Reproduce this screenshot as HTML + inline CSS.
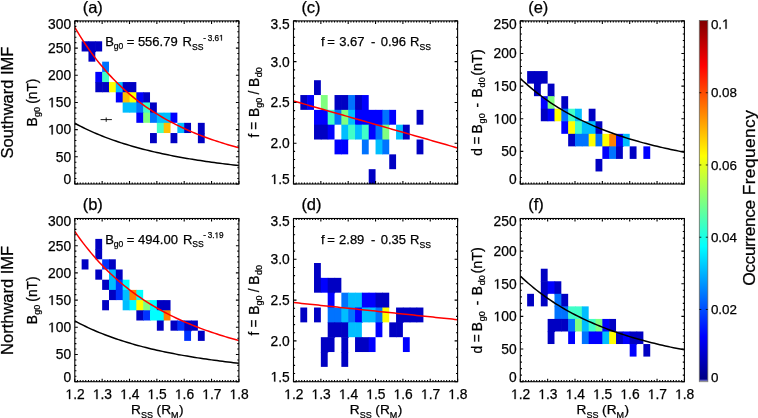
<!DOCTYPE html>
<html><head><meta charset="utf-8"><style>
html,body{margin:0;padding:0;background:#fff;}
svg{display:block;will-change:transform;}
text{font-family:"Liberation Sans", sans-serif;fill:#000;stroke:#000;stroke-width:0.25px;}
</style></head><body>
<svg width="758" height="418" viewBox="0 0 758 418">
<defs><linearGradient id="jet" x1="0" y1="0" x2="0" y2="1"><stop offset="0.0000" stop-color="#7f0000"/><stop offset="0.0312" stop-color="#9f0000"/><stop offset="0.0625" stop-color="#bf0000"/><stop offset="0.0938" stop-color="#df0000"/><stop offset="0.1250" stop-color="#ff0000"/><stop offset="0.1562" stop-color="#ff1f00"/><stop offset="0.1875" stop-color="#ff3f00"/><stop offset="0.2188" stop-color="#ff5f00"/><stop offset="0.2500" stop-color="#ff7f00"/><stop offset="0.2812" stop-color="#ff9f00"/><stop offset="0.3125" stop-color="#ffbf00"/><stop offset="0.3438" stop-color="#ffdf00"/><stop offset="0.3750" stop-color="#ffff00"/><stop offset="0.4062" stop-color="#dfff1f"/><stop offset="0.4375" stop-color="#bfff3f"/><stop offset="0.4688" stop-color="#9fff5f"/><stop offset="0.5000" stop-color="#7fff7f"/><stop offset="0.5312" stop-color="#5fff9f"/><stop offset="0.5625" stop-color="#3fffbf"/><stop offset="0.5938" stop-color="#1fffdf"/><stop offset="0.6250" stop-color="#00ffff"/><stop offset="0.6562" stop-color="#00dfff"/><stop offset="0.6875" stop-color="#00bfff"/><stop offset="0.7188" stop-color="#009fff"/><stop offset="0.7500" stop-color="#007fff"/><stop offset="0.7812" stop-color="#005fff"/><stop offset="0.8125" stop-color="#003fff"/><stop offset="0.8438" stop-color="#001fff"/><stop offset="0.8750" stop-color="#0000ff"/><stop offset="0.9062" stop-color="#0000df"/><stop offset="0.9375" stop-color="#0000bf"/><stop offset="0.9688" stop-color="#00009f"/><stop offset="1.0000" stop-color="#00007f"/></linearGradient><clipPath id="cp00"><rect x="74.8" y="20.9" width="164.1" height="163.1"/></clipPath><clipPath id="cp01"><rect x="74.8" y="218.5" width="164.1" height="163.2"/></clipPath><clipPath id="cp10"><rect x="293.5" y="20.9" width="164.1" height="163.1"/></clipPath><clipPath id="cp11"><rect x="293.5" y="218.5" width="164.1" height="163.2"/></clipPath><clipPath id="cp20"><rect x="520.3" y="20.9" width="164.1" height="163.1"/></clipPath><clipPath id="cp21"><rect x="520.3" y="218.5" width="164.1" height="163.2"/></clipPath></defs>
<rect width="758" height="418" fill="#fff"/>
<rect x="81.64" y="41.29" width="7.44" height="10.19" fill="#0000c3"/>
<rect x="88.47" y="41.29" width="7.44" height="10.79" fill="#0000c3"/>
<rect x="95.31" y="41.29" width="6.84" height="10.19" fill="#0000c3"/>
<rect x="88.47" y="51.48" width="6.84" height="10.19" fill="#0000c3"/>
<rect x="102.15" y="61.67" width="6.84" height="10.79" fill="#0073ff"/>
<rect x="95.31" y="71.87" width="7.44" height="10.79" fill="#0000ff"/>
<rect x="102.15" y="71.87" width="6.84" height="10.79" fill="#40ffc8"/>
<rect x="95.31" y="82.06" width="7.44" height="10.19" fill="#0000c3"/>
<rect x="102.15" y="82.06" width="7.44" height="10.19" fill="#0000c3"/>
<rect x="108.99" y="82.06" width="7.44" height="10.19" fill="#ffff00"/>
<rect x="115.82" y="82.06" width="7.44" height="10.79" fill="#00beff"/>
<rect x="122.66" y="82.06" width="7.44" height="10.79" fill="#0000c3"/>
<rect x="129.50" y="82.06" width="6.84" height="10.79" fill="#0000c3"/>
<rect x="115.82" y="92.26" width="7.44" height="10.19" fill="#0000ff"/>
<rect x="122.66" y="92.26" width="7.44" height="10.79" fill="#ffbe00"/>
<rect x="129.50" y="92.26" width="7.44" height="10.79" fill="#ffff00"/>
<rect x="136.34" y="92.26" width="7.44" height="10.79" fill="#0000ff"/>
<rect x="143.18" y="92.26" width="6.84" height="10.79" fill="#0000c3"/>
<rect x="122.66" y="102.45" width="7.44" height="10.19" fill="#00beff"/>
<rect x="129.50" y="102.45" width="7.44" height="10.19" fill="#00beff"/>
<rect x="136.34" y="102.45" width="7.44" height="10.79" fill="#0073ff"/>
<rect x="143.18" y="102.45" width="7.44" height="10.79" fill="#40ffc8"/>
<rect x="150.01" y="102.45" width="6.84" height="10.79" fill="#0000c3"/>
<rect x="136.34" y="112.64" width="7.44" height="10.19" fill="#0000ff"/>
<rect x="143.18" y="112.64" width="7.44" height="10.19" fill="#80ff80"/>
<rect x="150.01" y="112.64" width="7.44" height="10.19" fill="#0073ff"/>
<rect x="156.85" y="112.64" width="7.44" height="10.79" fill="#00beff"/>
<rect x="163.69" y="112.64" width="7.44" height="10.79" fill="#00beff"/>
<rect x="170.52" y="112.64" width="6.84" height="10.19" fill="#0000ff"/>
<rect x="156.85" y="122.84" width="7.44" height="10.19" fill="#40ffc8"/>
<rect x="163.69" y="122.84" width="6.84" height="10.19" fill="#ffbe00"/>
<rect x="177.36" y="122.84" width="7.44" height="10.19" fill="#00beff"/>
<rect x="184.20" y="122.84" width="6.84" height="10.19" fill="#0000c3"/>
<rect x="197.88" y="122.84" width="6.84" height="10.79" fill="#0000c3"/>
<rect x="150.01" y="133.03" width="6.84" height="10.19" fill="#0000c3"/>
<rect x="170.52" y="133.03" width="6.84" height="10.19" fill="#0000c3"/>
<rect x="197.88" y="133.03" width="6.84" height="10.19" fill="#0000c3"/>
<rect x="95.31" y="238.90" width="6.84" height="10.80" fill="#0000c3"/>
<rect x="95.31" y="249.10" width="6.84" height="10.20" fill="#0000c3"/>
<rect x="81.64" y="259.30" width="6.84" height="10.20" fill="#0000c3"/>
<rect x="102.15" y="259.30" width="7.44" height="10.20" fill="#0032ff"/>
<rect x="108.99" y="259.30" width="6.84" height="10.80" fill="#0000c3"/>
<rect x="95.31" y="269.50" width="6.84" height="10.20" fill="#0000c3"/>
<rect x="108.99" y="269.50" width="7.44" height="10.80" fill="#00beff"/>
<rect x="115.82" y="269.50" width="6.84" height="10.80" fill="#0000c3"/>
<rect x="102.15" y="279.70" width="7.44" height="10.20" fill="#0000c3"/>
<rect x="108.99" y="279.70" width="7.44" height="10.80" fill="#00beff"/>
<rect x="115.82" y="279.70" width="7.44" height="10.80" fill="#0032ff"/>
<rect x="122.66" y="279.70" width="6.84" height="10.80" fill="#00ffff"/>
<rect x="108.99" y="289.90" width="7.44" height="10.20" fill="#0000c3"/>
<rect x="115.82" y="289.90" width="7.44" height="10.20" fill="#0032ff"/>
<rect x="122.66" y="289.90" width="7.44" height="10.80" fill="#00beff"/>
<rect x="129.50" y="289.90" width="7.44" height="10.80" fill="#ff8000"/>
<rect x="136.34" y="289.90" width="6.84" height="10.80" fill="#00ffff"/>
<rect x="102.15" y="300.10" width="6.84" height="10.20" fill="#0000c3"/>
<rect x="122.66" y="300.10" width="7.44" height="10.20" fill="#00beff"/>
<rect x="129.50" y="300.10" width="7.44" height="10.20" fill="#00ffff"/>
<rect x="136.34" y="300.10" width="7.44" height="10.80" fill="#ffff00"/>
<rect x="143.18" y="300.10" width="7.44" height="10.80" fill="#80ff80"/>
<rect x="150.01" y="300.10" width="7.44" height="10.80" fill="#00ffff"/>
<rect x="156.85" y="300.10" width="7.44" height="10.80" fill="#0000c3"/>
<rect x="163.69" y="300.10" width="6.84" height="10.80" fill="#0000c3"/>
<rect x="136.34" y="310.30" width="7.44" height="10.20" fill="#0000c3"/>
<rect x="143.18" y="310.30" width="7.44" height="10.20" fill="#0032ff"/>
<rect x="150.01" y="310.30" width="7.44" height="10.20" fill="#00ffff"/>
<rect x="156.85" y="310.30" width="7.44" height="10.80" fill="#00ffff"/>
<rect x="163.69" y="310.30" width="6.84" height="10.20" fill="#ff8000"/>
<rect x="156.85" y="320.50" width="6.84" height="10.20" fill="#0000c3"/>
<rect x="170.52" y="320.50" width="7.44" height="10.20" fill="#0000c3"/>
<rect x="177.36" y="320.50" width="7.44" height="10.20" fill="#0032ff"/>
<rect x="184.20" y="320.50" width="7.44" height="10.80" fill="#0000c3"/>
<rect x="191.04" y="320.50" width="6.84" height="10.20" fill="#0000c3"/>
<rect x="184.20" y="330.70" width="6.84" height="10.20" fill="#0032ff"/>
<rect x="197.88" y="330.70" width="6.84" height="10.20" fill="#0000c3"/>
<rect x="314.01" y="80.21" width="6.84" height="14.83" fill="#0000c3"/>
<rect x="300.34" y="95.04" width="7.44" height="14.83" fill="#0000c3"/>
<rect x="307.18" y="95.04" width="6.84" height="14.83" fill="#0000ff"/>
<rect x="320.85" y="95.04" width="6.84" height="15.43" fill="#80ff80"/>
<rect x="334.52" y="95.04" width="7.44" height="15.43" fill="#0000c3"/>
<rect x="341.36" y="95.04" width="7.44" height="15.43" fill="#0000c3"/>
<rect x="348.20" y="95.04" width="7.44" height="15.43" fill="#0073ff"/>
<rect x="355.04" y="95.04" width="7.44" height="15.43" fill="#0000c3"/>
<rect x="361.88" y="95.04" width="6.84" height="15.43" fill="#0000ff"/>
<rect x="314.01" y="109.86" width="7.44" height="15.43" fill="#0000ff"/>
<rect x="320.85" y="109.86" width="7.44" height="15.43" fill="#0000ff"/>
<rect x="327.69" y="109.86" width="7.44" height="15.43" fill="#40ffc8"/>
<rect x="334.52" y="109.86" width="7.44" height="14.83" fill="#0073ff"/>
<rect x="341.36" y="109.86" width="7.44" height="15.43" fill="#80ff80"/>
<rect x="348.20" y="109.86" width="7.44" height="15.43" fill="#00beff"/>
<rect x="355.04" y="109.86" width="7.44" height="15.43" fill="#0000ff"/>
<rect x="361.88" y="109.86" width="7.44" height="15.43" fill="#0000ff"/>
<rect x="368.71" y="109.86" width="7.44" height="15.43" fill="#0000ff"/>
<rect x="375.55" y="109.86" width="7.44" height="15.43" fill="#0000ff"/>
<rect x="382.39" y="109.86" width="7.44" height="15.43" fill="#0073ff"/>
<rect x="389.23" y="109.86" width="6.84" height="14.83" fill="#0000ff"/>
<rect x="416.57" y="109.86" width="6.84" height="14.83" fill="#0000c3"/>
<rect x="314.01" y="124.69" width="7.44" height="14.83" fill="#0000c3"/>
<rect x="320.85" y="124.69" width="7.44" height="14.83" fill="#0000c3"/>
<rect x="327.69" y="124.69" width="6.84" height="14.83" fill="#0000ff"/>
<rect x="341.36" y="124.69" width="7.44" height="15.43" fill="#00beff"/>
<rect x="348.20" y="124.69" width="7.44" height="14.83" fill="#40ffc8"/>
<rect x="355.04" y="124.69" width="7.44" height="14.83" fill="#00beff"/>
<rect x="361.88" y="124.69" width="7.44" height="15.43" fill="#40ffc8"/>
<rect x="368.71" y="124.69" width="7.44" height="14.83" fill="#0000ff"/>
<rect x="375.55" y="124.69" width="7.44" height="15.43" fill="#0073ff"/>
<rect x="382.39" y="124.69" width="6.84" height="15.43" fill="#80ff80"/>
<rect x="396.06" y="124.69" width="7.44" height="14.83" fill="#00beff"/>
<rect x="402.90" y="124.69" width="6.84" height="14.83" fill="#0000c3"/>
<rect x="334.52" y="139.52" width="7.44" height="14.83" fill="#0000ff"/>
<rect x="341.36" y="139.52" width="6.84" height="14.83" fill="#0000ff"/>
<rect x="361.88" y="139.52" width="6.84" height="14.83" fill="#0073ff"/>
<rect x="375.55" y="139.52" width="7.44" height="14.83" fill="#00beff"/>
<rect x="382.39" y="139.52" width="6.84" height="14.83" fill="#0073ff"/>
<rect x="416.57" y="139.52" width="6.84" height="14.83" fill="#0000c3"/>
<rect x="389.23" y="154.35" width="6.84" height="14.83" fill="#0000c3"/>
<rect x="368.71" y="169.17" width="6.84" height="14.83" fill="#0000c3"/>
<rect x="314.01" y="263.01" width="6.84" height="15.44" fill="#0000c3"/>
<rect x="314.01" y="277.85" width="7.44" height="14.84" fill="#0000c3"/>
<rect x="320.85" y="277.85" width="7.44" height="14.84" fill="#0000ff"/>
<rect x="327.69" y="277.85" width="7.44" height="15.44" fill="#0000c3"/>
<rect x="334.52" y="277.85" width="6.84" height="14.84" fill="#0000c3"/>
<rect x="327.69" y="292.68" width="6.84" height="15.44" fill="#0000ff"/>
<rect x="341.36" y="292.68" width="7.44" height="15.44" fill="#0073ff"/>
<rect x="348.20" y="292.68" width="7.44" height="15.44" fill="#00beff"/>
<rect x="355.04" y="292.68" width="7.44" height="15.44" fill="#00beff"/>
<rect x="361.88" y="292.68" width="7.44" height="15.44" fill="#0000ff"/>
<rect x="368.71" y="292.68" width="7.44" height="15.44" fill="#0000ff"/>
<rect x="375.55" y="292.68" width="7.44" height="15.44" fill="#0000c3"/>
<rect x="382.39" y="292.68" width="6.84" height="15.44" fill="#0000c3"/>
<rect x="300.34" y="307.52" width="6.84" height="14.84" fill="#0000c3"/>
<rect x="314.01" y="307.52" width="6.84" height="14.84" fill="#0000c3"/>
<rect x="327.69" y="307.52" width="7.44" height="15.44" fill="#0073ff"/>
<rect x="334.52" y="307.52" width="7.44" height="15.44" fill="#0073ff"/>
<rect x="341.36" y="307.52" width="7.44" height="15.44" fill="#00beff"/>
<rect x="348.20" y="307.52" width="7.44" height="15.44" fill="#0073ff"/>
<rect x="355.04" y="307.52" width="7.44" height="15.44" fill="#0000ff"/>
<rect x="361.88" y="307.52" width="7.44" height="14.84" fill="#00beff"/>
<rect x="368.71" y="307.52" width="7.44" height="14.84" fill="#00beff"/>
<rect x="375.55" y="307.52" width="7.44" height="15.44" fill="#0073ff"/>
<rect x="382.39" y="307.52" width="6.84" height="14.84" fill="#ffff00"/>
<rect x="396.06" y="307.52" width="7.44" height="15.44" fill="#0000c3"/>
<rect x="402.90" y="307.52" width="7.44" height="14.84" fill="#0000c3"/>
<rect x="409.74" y="307.52" width="7.44" height="14.84" fill="#0000c3"/>
<rect x="416.57" y="307.52" width="6.84" height="14.84" fill="#0000c3"/>
<rect x="327.69" y="322.35" width="7.44" height="15.44" fill="#0000c3"/>
<rect x="334.52" y="322.35" width="7.44" height="14.84" fill="#0000c3"/>
<rect x="341.36" y="322.35" width="7.44" height="15.44" fill="#0000c3"/>
<rect x="348.20" y="322.35" width="7.44" height="14.84" fill="#00beff"/>
<rect x="355.04" y="322.35" width="6.84" height="15.44" fill="#00beff"/>
<rect x="375.55" y="322.35" width="6.84" height="14.84" fill="#0000ff"/>
<rect x="389.23" y="322.35" width="7.44" height="14.84" fill="#0000c3"/>
<rect x="396.06" y="322.35" width="6.84" height="14.84" fill="#0000c3"/>
<rect x="320.85" y="337.19" width="7.44" height="15.44" fill="#0000c3"/>
<rect x="327.69" y="337.19" width="6.84" height="14.84" fill="#0000c3"/>
<rect x="341.36" y="337.19" width="6.84" height="15.44" fill="#0000c3"/>
<rect x="355.04" y="337.19" width="7.44" height="14.84" fill="#0000c3"/>
<rect x="361.88" y="337.19" width="7.44" height="14.84" fill="#0000c3"/>
<rect x="368.71" y="337.19" width="6.84" height="14.84" fill="#0000ff"/>
<rect x="402.90" y="337.19" width="6.84" height="14.84" fill="#0000ff"/>
<rect x="320.85" y="352.03" width="6.84" height="14.84" fill="#0000c3"/>
<rect x="341.36" y="352.03" width="6.84" height="14.84" fill="#0000c3"/>
<rect x="527.14" y="71.08" width="7.44" height="12.55" fill="#0000c3"/>
<rect x="533.97" y="71.08" width="7.44" height="13.15" fill="#0000c3"/>
<rect x="540.81" y="71.08" width="6.84" height="12.55" fill="#0000c3"/>
<rect x="533.97" y="83.63" width="6.84" height="12.55" fill="#0000c3"/>
<rect x="547.65" y="83.63" width="6.84" height="13.15" fill="#0000c3"/>
<rect x="540.81" y="96.18" width="7.44" height="13.15" fill="#0000ff"/>
<rect x="547.65" y="96.18" width="6.84" height="13.15" fill="#80ff80"/>
<rect x="561.32" y="96.18" width="6.84" height="13.15" fill="#0000c3"/>
<rect x="540.81" y="108.72" width="7.44" height="12.55" fill="#0000c3"/>
<rect x="547.65" y="108.72" width="7.44" height="12.55" fill="#0000ff"/>
<rect x="554.49" y="108.72" width="7.44" height="12.55" fill="#ffff00"/>
<rect x="561.32" y="108.72" width="7.44" height="13.15" fill="#0073ff"/>
<rect x="568.16" y="108.72" width="7.44" height="13.15" fill="#40ffc8"/>
<rect x="575.00" y="108.72" width="6.84" height="13.15" fill="#00beff"/>
<rect x="588.67" y="108.72" width="6.84" height="13.15" fill="#0000c3"/>
<rect x="561.32" y="121.27" width="7.44" height="12.55" fill="#0000ff"/>
<rect x="568.16" y="121.27" width="7.44" height="13.15" fill="#ffff00"/>
<rect x="575.00" y="121.27" width="7.44" height="13.15" fill="#40ffc8"/>
<rect x="581.84" y="121.27" width="7.44" height="13.15" fill="#00beff"/>
<rect x="588.67" y="121.27" width="7.44" height="13.15" fill="#00beff"/>
<rect x="595.51" y="121.27" width="6.84" height="13.15" fill="#0000c3"/>
<rect x="568.16" y="133.82" width="7.44" height="12.55" fill="#0000c3"/>
<rect x="575.00" y="133.82" width="7.44" height="12.55" fill="#0073ff"/>
<rect x="581.84" y="133.82" width="7.44" height="12.55" fill="#0073ff"/>
<rect x="588.67" y="133.82" width="7.44" height="12.55" fill="#ffff00"/>
<rect x="595.51" y="133.82" width="7.44" height="12.55" fill="#0073ff"/>
<rect x="602.35" y="133.82" width="7.44" height="13.15" fill="#ffff00"/>
<rect x="609.19" y="133.82" width="7.44" height="13.15" fill="#ff8000"/>
<rect x="616.02" y="133.82" width="7.44" height="13.15" fill="#0000ff"/>
<rect x="622.86" y="133.82" width="6.84" height="12.55" fill="#00beff"/>
<rect x="602.35" y="146.36" width="7.44" height="12.55" fill="#0000ff"/>
<rect x="609.19" y="146.36" width="7.44" height="12.55" fill="#0073ff"/>
<rect x="616.02" y="146.36" width="6.84" height="12.55" fill="#0000c3"/>
<rect x="629.70" y="146.36" width="6.84" height="12.55" fill="#0000c3"/>
<rect x="643.38" y="146.36" width="6.84" height="12.55" fill="#0000ff"/>
<rect x="595.51" y="158.91" width="6.84" height="12.55" fill="#0000c3"/>
<rect x="540.81" y="268.72" width="6.84" height="13.15" fill="#0000c3"/>
<rect x="540.81" y="281.27" width="7.44" height="13.15" fill="#0000c3"/>
<rect x="547.65" y="281.27" width="7.44" height="12.55" fill="#0000ff"/>
<rect x="554.49" y="281.27" width="6.84" height="13.15" fill="#0000c3"/>
<rect x="527.14" y="293.82" width="6.84" height="12.55" fill="#0000c3"/>
<rect x="540.81" y="293.82" width="6.84" height="12.55" fill="#0000c3"/>
<rect x="554.49" y="293.82" width="7.44" height="13.15" fill="#0073ff"/>
<rect x="561.32" y="293.82" width="6.84" height="13.15" fill="#0000c3"/>
<rect x="554.49" y="306.38" width="7.44" height="13.15" fill="#0073ff"/>
<rect x="561.32" y="306.38" width="7.44" height="13.15" fill="#0073ff"/>
<rect x="568.16" y="306.38" width="7.44" height="13.15" fill="#40ffc8"/>
<rect x="575.00" y="306.38" width="7.44" height="13.15" fill="#40ffc8"/>
<rect x="581.84" y="306.38" width="6.84" height="13.15" fill="#00beff"/>
<rect x="547.65" y="318.93" width="7.44" height="13.15" fill="#0000c3"/>
<rect x="554.49" y="318.93" width="7.44" height="12.55" fill="#0000c3"/>
<rect x="561.32" y="318.93" width="7.44" height="12.55" fill="#0000c3"/>
<rect x="568.16" y="318.93" width="7.44" height="13.15" fill="#0073ff"/>
<rect x="575.00" y="318.93" width="7.44" height="12.55" fill="#80ff80"/>
<rect x="581.84" y="318.93" width="7.44" height="13.15" fill="#00beff"/>
<rect x="588.67" y="318.93" width="7.44" height="13.15" fill="#40ffc8"/>
<rect x="595.51" y="318.93" width="7.44" height="13.15" fill="#80ff80"/>
<rect x="602.35" y="318.93" width="7.44" height="13.15" fill="#0000ff"/>
<rect x="609.19" y="318.93" width="6.84" height="13.15" fill="#0000c3"/>
<rect x="547.65" y="331.48" width="6.84" height="12.55" fill="#0000c3"/>
<rect x="568.16" y="331.48" width="6.84" height="12.55" fill="#0000ff"/>
<rect x="581.84" y="331.48" width="7.44" height="12.55" fill="#0073ff"/>
<rect x="588.67" y="331.48" width="7.44" height="12.55" fill="#0000ff"/>
<rect x="595.51" y="331.48" width="7.44" height="12.55" fill="#0000ff"/>
<rect x="602.35" y="331.48" width="7.44" height="12.55" fill="#00beff"/>
<rect x="609.19" y="331.48" width="7.44" height="12.55" fill="#ffff00"/>
<rect x="616.02" y="331.48" width="7.44" height="12.55" fill="#0000c3"/>
<rect x="622.86" y="331.48" width="7.44" height="12.55" fill="#0000ff"/>
<rect x="629.70" y="331.48" width="7.44" height="13.15" fill="#0000c3"/>
<rect x="636.54" y="331.48" width="6.84" height="12.55" fill="#0000c3"/>
<rect x="629.70" y="344.04" width="6.84" height="12.55" fill="#0000ff"/>
<rect x="643.38" y="344.04" width="6.84" height="12.55" fill="#0000c3"/>
<path d="M74.80 27.26 L77.53 31.89 L80.27 36.34 L83.00 40.63 L85.74 44.76 L88.48 48.74 L91.21 52.57 L93.95 56.27 L96.68 59.84 L99.42 63.28 L102.15 66.59 L104.89 69.80 L107.62 72.89 L110.36 75.88 L113.09 78.76 L115.83 81.55 L118.56 84.24 L121.29 86.85 L124.03 89.36 L126.76 91.80 L129.50 94.15 L132.23 96.43 L134.97 98.64 L137.70 100.77 L140.44 102.84 L143.17 104.84 L145.91 106.78 L148.64 108.66 L151.38 110.48 L154.12 112.25 L156.85 113.96 L159.59 115.62 L162.32 117.23 L165.06 118.79 L167.79 120.31 L170.53 121.78 L173.26 123.21 L176.00 124.59 L178.73 125.94 L181.46 127.25 L184.20 128.52 L186.94 129.75 L189.67 130.95 L192.40 132.12 L195.14 133.25 L197.87 134.35 L200.61 135.42 L203.34 136.46 L206.08 137.48 L208.81 138.46 L211.55 139.42 L214.28 140.36 L217.02 141.27 L219.75 142.15 L222.49 143.01 L225.22 143.85 L227.96 144.67 L230.69 145.47 L233.43 146.24 L236.16 147.00 L238.90 147.73" fill="none" stroke="#ff0000" stroke-width="1.5" clip-path="url(#cp00)"/>
<path d="M74.80 123.27 L77.53 124.74 L80.27 126.15 L83.00 127.52 L85.74 128.85 L88.48 130.14 L91.21 131.39 L93.95 132.60 L96.68 133.77 L99.42 134.90 L102.15 136.01 L104.89 137.08 L107.62 138.11 L110.36 139.12 L113.09 140.10 L115.83 141.05 L118.56 141.97 L121.29 142.86 L124.03 143.73 L126.76 144.58 L129.50 145.40 L132.23 146.20 L134.97 146.98 L137.70 147.73 L140.44 148.47 L143.17 149.19 L145.91 149.88 L148.64 150.56 L151.38 151.22 L154.12 151.86 L156.85 152.49 L159.59 153.10 L162.32 153.69 L165.06 154.27 L167.79 154.83 L170.53 155.38 L173.26 155.92 L176.00 156.44 L178.73 156.95 L181.46 157.45 L184.20 157.93 L186.94 158.41 L189.67 158.87 L192.40 159.32 L195.14 159.76 L197.87 160.19 L200.61 160.61 L203.34 161.02 L206.08 161.42 L208.81 161.81 L211.55 162.19 L214.28 162.56 L217.02 162.93 L219.75 163.28 L222.49 163.63 L225.22 163.97 L227.96 164.30 L230.69 164.63 L233.43 164.95 L236.16 165.26 L238.90 165.56" fill="none" stroke="#000000" stroke-width="1.5" clip-path="url(#cp00)"/>
<path d="M74.80 231.48 L77.53 235.40 L80.27 239.19 L83.00 242.86 L85.74 246.40 L88.48 249.82 L91.21 253.13 L93.95 256.33 L96.68 259.43 L99.42 262.43 L102.15 265.33 L104.89 268.14 L107.62 270.86 L110.36 273.50 L113.09 276.05 L115.83 278.53 L118.56 280.93 L121.29 283.26 L124.03 285.51 L126.76 287.70 L129.50 289.83 L132.23 291.89 L134.97 293.89 L137.70 295.84 L140.44 297.73 L143.17 299.56 L145.91 301.34 L148.64 303.07 L151.38 304.75 L154.12 306.39 L156.85 307.98 L159.59 309.52 L162.32 311.03 L165.06 312.49 L167.79 313.91 L170.53 315.30 L173.26 316.65 L176.00 317.96 L178.73 319.24 L181.46 320.48 L184.20 321.70 L186.94 322.88 L189.67 324.03 L192.40 325.15 L195.14 326.24 L197.87 327.31 L200.61 328.34 L203.34 329.36 L206.08 330.34 L208.81 331.31 L211.55 332.25 L214.28 333.16 L217.02 334.06 L219.75 334.93 L222.49 335.78 L225.22 336.61 L227.96 337.43 L230.69 338.22 L233.43 338.99 L236.16 339.75 L238.90 340.49" fill="none" stroke="#ff0000" stroke-width="1.5" clip-path="url(#cp01)"/>
<path d="M74.80 320.94 L77.53 322.40 L80.27 323.82 L83.00 325.19 L85.74 326.52 L88.48 327.81 L91.21 329.06 L93.95 330.26 L96.68 331.44 L99.42 332.57 L102.15 333.68 L104.89 334.75 L107.62 335.78 L110.36 336.79 L113.09 337.77 L115.83 338.72 L118.56 339.64 L121.29 340.54 L124.03 341.41 L126.76 342.26 L129.50 343.08 L132.23 343.88 L134.97 344.66 L137.70 345.41 L140.44 346.15 L143.17 346.86 L145.91 347.56 L148.64 348.24 L151.38 348.90 L154.12 349.54 L156.85 350.17 L159.59 350.78 L162.32 351.37 L165.06 351.95 L167.79 352.52 L170.53 353.07 L173.26 353.60 L176.00 354.13 L178.73 354.64 L181.46 355.13 L184.20 355.62 L186.94 356.09 L189.67 356.55 L192.40 357.00 L195.14 357.44 L197.87 357.87 L200.61 358.29 L203.34 358.70 L206.08 359.10 L208.81 359.49 L211.55 359.88 L214.28 360.25 L217.02 360.61 L219.75 360.97 L222.49 361.32 L225.22 361.66 L227.96 361.99 L230.69 362.32 L233.43 362.64 L236.16 362.95 L238.90 363.25" fill="none" stroke="#000000" stroke-width="1.5" clip-path="url(#cp01)"/>
<path d="M293.50 100.98 L296.24 101.76 L298.97 102.55 L301.70 103.33 L304.44 104.11 L307.18 104.90 L309.91 105.68 L312.65 106.46 L315.38 107.25 L318.12 108.03 L320.85 108.81 L323.59 109.59 L326.32 110.38 L329.06 111.16 L331.79 111.94 L334.53 112.73 L337.26 113.51 L339.99 114.29 L342.73 115.07 L345.46 115.86 L348.20 116.64 L350.93 117.42 L353.67 118.21 L356.40 118.99 L359.14 119.77 L361.88 120.55 L364.61 121.34 L367.34 122.12 L370.08 122.90 L372.81 123.69 L375.55 124.47 L378.29 125.25 L381.02 126.03 L383.75 126.82 L386.49 127.60 L389.23 128.38 L391.96 129.17 L394.70 129.95 L397.43 130.73 L400.16 131.51 L402.90 132.30 L405.63 133.08 L408.37 133.86 L411.10 134.65 L413.84 135.43 L416.57 136.21 L419.31 136.99 L422.04 137.78 L424.78 138.56 L427.51 139.34 L430.25 140.13 L432.99 140.91 L435.72 141.69 L438.45 142.47 L441.19 143.26 L443.92 144.04 L446.66 144.82 L449.39 145.61 L452.13 146.39 L454.87 147.17 L457.60 147.95" fill="none" stroke="#ff0000" stroke-width="1.5" clip-path="url(#cp10)"/>
<path d="M293.50 302.55 L296.24 302.83 L298.97 303.12 L301.70 303.40 L304.44 303.69 L307.18 303.98 L309.91 304.26 L312.65 304.55 L315.38 304.83 L318.12 305.12 L320.85 305.40 L323.59 305.69 L326.32 305.98 L329.06 306.26 L331.79 306.55 L334.53 306.83 L337.26 307.12 L339.99 307.40 L342.73 307.69 L345.46 307.97 L348.20 308.26 L350.93 308.55 L353.67 308.83 L356.40 309.12 L359.14 309.40 L361.88 309.69 L364.61 309.97 L367.34 310.26 L370.08 310.54 L372.81 310.83 L375.55 311.12 L378.29 311.40 L381.02 311.69 L383.75 311.97 L386.49 312.26 L389.23 312.54 L391.96 312.83 L394.70 313.12 L397.43 313.40 L400.16 313.69 L402.90 313.97 L405.63 314.26 L408.37 314.54 L411.10 314.83 L413.84 315.11 L416.57 315.40 L419.31 315.69 L422.04 315.97 L424.78 316.26 L427.51 316.54 L430.25 316.83 L432.99 317.11 L435.72 317.40 L438.45 317.68 L441.19 317.97 L443.92 318.26 L446.66 318.54 L449.39 318.83 L452.13 319.11 L454.87 319.40 L457.60 319.68" fill="none" stroke="#ff0000" stroke-width="1.5" clip-path="url(#cp11)"/>
<path d="M520.30 78.39 L523.03 80.95 L525.77 83.43 L528.50 85.83 L531.24 88.16 L533.97 90.41 L536.71 92.59 L539.44 94.70 L542.18 96.75 L544.91 98.74 L547.65 100.67 L550.38 102.54 L553.12 104.35 L555.86 106.11 L558.59 107.82 L561.32 109.48 L564.06 111.09 L566.79 112.65 L569.53 114.17 L572.26 115.65 L575.00 117.08 L577.73 118.48 L580.47 119.83 L583.20 121.15 L585.94 122.43 L588.67 123.68 L591.41 124.90 L594.14 126.08 L596.88 127.23 L599.62 128.35 L602.35 129.44 L605.08 130.50 L607.82 131.54 L610.55 132.55 L613.29 133.53 L616.02 134.49 L618.76 135.42 L621.50 136.33 L624.23 137.22 L626.96 138.09 L629.70 138.93 L632.43 139.75 L635.17 140.56 L637.90 141.34 L640.64 142.11 L643.37 142.85 L646.11 143.58 L648.84 144.29 L651.58 144.99 L654.31 145.67 L657.05 146.33 L659.78 146.98 L662.52 147.61 L665.25 148.23 L667.99 148.84 L670.72 149.43 L673.46 150.01 L676.19 150.57 L678.93 151.13 L681.66 151.67 L684.40 152.20" fill="none" stroke="#000000" stroke-width="1.5" clip-path="url(#cp20)"/>
<path d="M520.30 276.02 L523.03 278.59 L525.77 281.07 L528.50 283.47 L531.24 285.80 L533.97 288.05 L536.71 290.23 L539.44 292.35 L542.18 294.40 L544.91 296.39 L547.65 298.32 L550.38 300.19 L553.12 302.00 L555.86 303.76 L558.59 305.47 L561.32 307.13 L564.06 308.74 L566.79 310.31 L569.53 311.83 L572.26 313.30 L575.00 314.74 L577.73 316.14 L580.47 317.49 L583.20 318.81 L585.94 320.10 L588.67 321.35 L591.41 322.56 L594.14 323.74 L596.88 324.90 L599.62 326.02 L602.35 327.11 L605.08 328.17 L607.82 329.21 L610.55 330.22 L613.29 331.20 L616.02 332.16 L618.76 333.09 L621.50 334.00 L624.23 334.89 L626.96 335.76 L629.70 336.60 L632.43 337.43 L635.17 338.23 L637.90 339.01 L640.64 339.78 L643.37 340.53 L646.11 341.26 L648.84 341.97 L651.58 342.67 L654.31 343.35 L657.05 344.01 L659.78 344.66 L662.52 345.29 L665.25 345.91 L667.99 346.52 L670.72 347.11 L673.46 347.69 L676.19 348.25 L678.93 348.81 L681.66 349.35 L684.40 349.88" fill="none" stroke="#000000" stroke-width="1.5" clip-path="url(#cp21)"/>
<path d="M100.6 119.6 H111.9 M106.2 117.5 V121.8" stroke="#000" stroke-width="0.9" fill="none"/>
<path d="M74.80 184.00 v-3.00 M74.80 20.90 v3.00 M77.53 184.00 v-1.60 M77.53 20.90 v1.60 M80.27 184.00 v-1.60 M80.27 20.90 v1.60 M83.00 184.00 v-1.60 M83.00 20.90 v1.60 M85.74 184.00 v-1.60 M85.74 20.90 v1.60 M88.47 184.00 v-1.60 M88.47 20.90 v1.60 M91.21 184.00 v-1.60 M91.21 20.90 v1.60 M93.94 184.00 v-1.60 M93.94 20.90 v1.60 M96.68 184.00 v-1.60 M96.68 20.90 v1.60 M99.41 184.00 v-1.60 M99.41 20.90 v1.60 M102.15 184.00 v-3.00 M102.15 20.90 v3.00 M104.88 184.00 v-1.60 M104.88 20.90 v1.60 M107.62 184.00 v-1.60 M107.62 20.90 v1.60 M110.35 184.00 v-1.60 M110.35 20.90 v1.60 M113.09 184.00 v-1.60 M113.09 20.90 v1.60 M115.82 184.00 v-1.60 M115.82 20.90 v1.60 M118.56 184.00 v-1.60 M118.56 20.90 v1.60 M121.29 184.00 v-1.60 M121.29 20.90 v1.60 M124.03 184.00 v-1.60 M124.03 20.90 v1.60 M126.77 184.00 v-1.60 M126.77 20.90 v1.60 M129.50 184.00 v-3.00 M129.50 20.90 v3.00 M132.23 184.00 v-1.60 M132.23 20.90 v1.60 M134.97 184.00 v-1.60 M134.97 20.90 v1.60 M137.70 184.00 v-1.60 M137.70 20.90 v1.60 M140.44 184.00 v-1.60 M140.44 20.90 v1.60 M143.18 184.00 v-1.60 M143.18 20.90 v1.60 M145.91 184.00 v-1.60 M145.91 20.90 v1.60 M148.64 184.00 v-1.60 M148.64 20.90 v1.60 M151.38 184.00 v-1.60 M151.38 20.90 v1.60 M154.12 184.00 v-1.60 M154.12 20.90 v1.60 M156.85 184.00 v-3.00 M156.85 20.90 v3.00 M159.58 184.00 v-1.60 M159.58 20.90 v1.60 M162.32 184.00 v-1.60 M162.32 20.90 v1.60 M165.06 184.00 v-1.60 M165.06 20.90 v1.60 M167.79 184.00 v-1.60 M167.79 20.90 v1.60 M170.52 184.00 v-1.60 M170.52 20.90 v1.60 M173.26 184.00 v-1.60 M173.26 20.90 v1.60 M176.00 184.00 v-1.60 M176.00 20.90 v1.60 M178.73 184.00 v-1.60 M178.73 20.90 v1.60 M181.46 184.00 v-1.60 M181.46 20.90 v1.60 M184.20 184.00 v-3.00 M184.20 20.90 v3.00 M186.94 184.00 v-1.60 M186.94 20.90 v1.60 M189.67 184.00 v-1.60 M189.67 20.90 v1.60 M192.41 184.00 v-1.60 M192.41 20.90 v1.60 M195.14 184.00 v-1.60 M195.14 20.90 v1.60 M197.88 184.00 v-1.60 M197.88 20.90 v1.60 M200.61 184.00 v-1.60 M200.61 20.90 v1.60 M203.34 184.00 v-1.60 M203.34 20.90 v1.60 M206.08 184.00 v-1.60 M206.08 20.90 v1.60 M208.81 184.00 v-1.60 M208.81 20.90 v1.60 M211.55 184.00 v-3.00 M211.55 20.90 v3.00 M214.29 184.00 v-1.60 M214.29 20.90 v1.60 M217.02 184.00 v-1.60 M217.02 20.90 v1.60 M219.75 184.00 v-1.60 M219.75 20.90 v1.60 M222.49 184.00 v-1.60 M222.49 20.90 v1.60 M225.23 184.00 v-1.60 M225.23 20.90 v1.60 M227.96 184.00 v-1.60 M227.96 20.90 v1.60 M230.69 184.00 v-1.60 M230.69 20.90 v1.60 M233.43 184.00 v-1.60 M233.43 20.90 v1.60 M236.16 184.00 v-1.60 M236.16 20.90 v1.60 M238.90 184.00 v-3.00 M238.90 20.90 v3.00 M74.80 184.00 h3.00 M238.90 184.00 h-3.00 M74.80 178.56 h1.60 M238.90 178.56 h-1.60 M74.80 173.13 h1.60 M238.90 173.13 h-1.60 M74.80 167.69 h1.60 M238.90 167.69 h-1.60 M74.80 162.25 h1.60 M238.90 162.25 h-1.60 M74.80 156.82 h3.00 M238.90 156.82 h-3.00 M74.80 151.38 h1.60 M238.90 151.38 h-1.60 M74.80 145.94 h1.60 M238.90 145.94 h-1.60 M74.80 140.51 h1.60 M238.90 140.51 h-1.60 M74.80 135.07 h1.60 M238.90 135.07 h-1.60 M74.80 129.63 h3.00 M238.90 129.63 h-3.00 M74.80 124.20 h1.60 M238.90 124.20 h-1.60 M74.80 118.76 h1.60 M238.90 118.76 h-1.60 M74.80 113.32 h1.60 M238.90 113.32 h-1.60 M74.80 107.89 h1.60 M238.90 107.89 h-1.60 M74.80 102.45 h3.00 M238.90 102.45 h-3.00 M74.80 97.01 h1.60 M238.90 97.01 h-1.60 M74.80 91.58 h1.60 M238.90 91.58 h-1.60 M74.80 86.14 h1.60 M238.90 86.14 h-1.60 M74.80 80.70 h1.60 M238.90 80.70 h-1.60 M74.80 75.27 h3.00 M238.90 75.27 h-3.00 M74.80 69.83 h1.60 M238.90 69.83 h-1.60 M74.80 64.39 h1.60 M238.90 64.39 h-1.60 M74.80 58.96 h1.60 M238.90 58.96 h-1.60 M74.80 53.52 h1.60 M238.90 53.52 h-1.60 M74.80 48.08 h3.00 M238.90 48.08 h-3.00 M74.80 42.65 h1.60 M238.90 42.65 h-1.60 M74.80 37.21 h1.60 M238.90 37.21 h-1.60 M74.80 31.77 h1.60 M238.90 31.77 h-1.60 M74.80 26.34 h1.60 M238.90 26.34 h-1.60 M74.80 20.90 h3.00 M238.90 20.90 h-3.00" stroke="#000" stroke-width="1.1" fill="none"/>
<rect x="74.8" y="20.9" width="164.1" height="163.1" fill="none" stroke="#000" stroke-width="1.1"/>
<path d="M74.80 381.70 v-3.00 M74.80 218.50 v3.00 M77.53 381.70 v-1.60 M77.53 218.50 v1.60 M80.27 381.70 v-1.60 M80.27 218.50 v1.60 M83.00 381.70 v-1.60 M83.00 218.50 v1.60 M85.74 381.70 v-1.60 M85.74 218.50 v1.60 M88.47 381.70 v-1.60 M88.47 218.50 v1.60 M91.21 381.70 v-1.60 M91.21 218.50 v1.60 M93.94 381.70 v-1.60 M93.94 218.50 v1.60 M96.68 381.70 v-1.60 M96.68 218.50 v1.60 M99.41 381.70 v-1.60 M99.41 218.50 v1.60 M102.15 381.70 v-3.00 M102.15 218.50 v3.00 M104.88 381.70 v-1.60 M104.88 218.50 v1.60 M107.62 381.70 v-1.60 M107.62 218.50 v1.60 M110.35 381.70 v-1.60 M110.35 218.50 v1.60 M113.09 381.70 v-1.60 M113.09 218.50 v1.60 M115.82 381.70 v-1.60 M115.82 218.50 v1.60 M118.56 381.70 v-1.60 M118.56 218.50 v1.60 M121.29 381.70 v-1.60 M121.29 218.50 v1.60 M124.03 381.70 v-1.60 M124.03 218.50 v1.60 M126.77 381.70 v-1.60 M126.77 218.50 v1.60 M129.50 381.70 v-3.00 M129.50 218.50 v3.00 M132.23 381.70 v-1.60 M132.23 218.50 v1.60 M134.97 381.70 v-1.60 M134.97 218.50 v1.60 M137.70 381.70 v-1.60 M137.70 218.50 v1.60 M140.44 381.70 v-1.60 M140.44 218.50 v1.60 M143.18 381.70 v-1.60 M143.18 218.50 v1.60 M145.91 381.70 v-1.60 M145.91 218.50 v1.60 M148.64 381.70 v-1.60 M148.64 218.50 v1.60 M151.38 381.70 v-1.60 M151.38 218.50 v1.60 M154.12 381.70 v-1.60 M154.12 218.50 v1.60 M156.85 381.70 v-3.00 M156.85 218.50 v3.00 M159.58 381.70 v-1.60 M159.58 218.50 v1.60 M162.32 381.70 v-1.60 M162.32 218.50 v1.60 M165.06 381.70 v-1.60 M165.06 218.50 v1.60 M167.79 381.70 v-1.60 M167.79 218.50 v1.60 M170.52 381.70 v-1.60 M170.52 218.50 v1.60 M173.26 381.70 v-1.60 M173.26 218.50 v1.60 M176.00 381.70 v-1.60 M176.00 218.50 v1.60 M178.73 381.70 v-1.60 M178.73 218.50 v1.60 M181.46 381.70 v-1.60 M181.46 218.50 v1.60 M184.20 381.70 v-3.00 M184.20 218.50 v3.00 M186.94 381.70 v-1.60 M186.94 218.50 v1.60 M189.67 381.70 v-1.60 M189.67 218.50 v1.60 M192.41 381.70 v-1.60 M192.41 218.50 v1.60 M195.14 381.70 v-1.60 M195.14 218.50 v1.60 M197.88 381.70 v-1.60 M197.88 218.50 v1.60 M200.61 381.70 v-1.60 M200.61 218.50 v1.60 M203.34 381.70 v-1.60 M203.34 218.50 v1.60 M206.08 381.70 v-1.60 M206.08 218.50 v1.60 M208.81 381.70 v-1.60 M208.81 218.50 v1.60 M211.55 381.70 v-3.00 M211.55 218.50 v3.00 M214.29 381.70 v-1.60 M214.29 218.50 v1.60 M217.02 381.70 v-1.60 M217.02 218.50 v1.60 M219.75 381.70 v-1.60 M219.75 218.50 v1.60 M222.49 381.70 v-1.60 M222.49 218.50 v1.60 M225.23 381.70 v-1.60 M225.23 218.50 v1.60 M227.96 381.70 v-1.60 M227.96 218.50 v1.60 M230.69 381.70 v-1.60 M230.69 218.50 v1.60 M233.43 381.70 v-1.60 M233.43 218.50 v1.60 M236.16 381.70 v-1.60 M236.16 218.50 v1.60 M238.90 381.70 v-3.00 M238.90 218.50 v3.00 M74.80 381.70 h3.00 M238.90 381.70 h-3.00 M74.80 376.26 h1.60 M238.90 376.26 h-1.60 M74.80 370.82 h1.60 M238.90 370.82 h-1.60 M74.80 365.38 h1.60 M238.90 365.38 h-1.60 M74.80 359.94 h1.60 M238.90 359.94 h-1.60 M74.80 354.50 h3.00 M238.90 354.50 h-3.00 M74.80 349.06 h1.60 M238.90 349.06 h-1.60 M74.80 343.62 h1.60 M238.90 343.62 h-1.60 M74.80 338.18 h1.60 M238.90 338.18 h-1.60 M74.80 332.74 h1.60 M238.90 332.74 h-1.60 M74.80 327.30 h3.00 M238.90 327.30 h-3.00 M74.80 321.86 h1.60 M238.90 321.86 h-1.60 M74.80 316.42 h1.60 M238.90 316.42 h-1.60 M74.80 310.98 h1.60 M238.90 310.98 h-1.60 M74.80 305.54 h1.60 M238.90 305.54 h-1.60 M74.80 300.10 h3.00 M238.90 300.10 h-3.00 M74.80 294.66 h1.60 M238.90 294.66 h-1.60 M74.80 289.22 h1.60 M238.90 289.22 h-1.60 M74.80 283.78 h1.60 M238.90 283.78 h-1.60 M74.80 278.34 h1.60 M238.90 278.34 h-1.60 M74.80 272.90 h3.00 M238.90 272.90 h-3.00 M74.80 267.46 h1.60 M238.90 267.46 h-1.60 M74.80 262.02 h1.60 M238.90 262.02 h-1.60 M74.80 256.58 h1.60 M238.90 256.58 h-1.60 M74.80 251.14 h1.60 M238.90 251.14 h-1.60 M74.80 245.70 h3.00 M238.90 245.70 h-3.00 M74.80 240.26 h1.60 M238.90 240.26 h-1.60 M74.80 234.82 h1.60 M238.90 234.82 h-1.60 M74.80 229.38 h1.60 M238.90 229.38 h-1.60 M74.80 223.94 h1.60 M238.90 223.94 h-1.60 M74.80 218.50 h3.00 M238.90 218.50 h-3.00" stroke="#000" stroke-width="1.1" fill="none"/>
<rect x="74.8" y="218.5" width="164.1" height="163.2" fill="none" stroke="#000" stroke-width="1.1"/>
<path d="M293.50 184.00 v-3.00 M293.50 20.90 v3.00 M296.24 184.00 v-1.60 M296.24 20.90 v1.60 M298.97 184.00 v-1.60 M298.97 20.90 v1.60 M301.70 184.00 v-1.60 M301.70 20.90 v1.60 M304.44 184.00 v-1.60 M304.44 20.90 v1.60 M307.18 184.00 v-1.60 M307.18 20.90 v1.60 M309.91 184.00 v-1.60 M309.91 20.90 v1.60 M312.64 184.00 v-1.60 M312.64 20.90 v1.60 M315.38 184.00 v-1.60 M315.38 20.90 v1.60 M318.12 184.00 v-1.60 M318.12 20.90 v1.60 M320.85 184.00 v-3.00 M320.85 20.90 v3.00 M323.58 184.00 v-1.60 M323.58 20.90 v1.60 M326.32 184.00 v-1.60 M326.32 20.90 v1.60 M329.06 184.00 v-1.60 M329.06 20.90 v1.60 M331.79 184.00 v-1.60 M331.79 20.90 v1.60 M334.52 184.00 v-1.60 M334.52 20.90 v1.60 M337.26 184.00 v-1.60 M337.26 20.90 v1.60 M340.00 184.00 v-1.60 M340.00 20.90 v1.60 M342.73 184.00 v-1.60 M342.73 20.90 v1.60 M345.47 184.00 v-1.60 M345.47 20.90 v1.60 M348.20 184.00 v-3.00 M348.20 20.90 v3.00 M350.94 184.00 v-1.60 M350.94 20.90 v1.60 M353.67 184.00 v-1.60 M353.67 20.90 v1.60 M356.40 184.00 v-1.60 M356.40 20.90 v1.60 M359.14 184.00 v-1.60 M359.14 20.90 v1.60 M361.88 184.00 v-1.60 M361.88 20.90 v1.60 M364.61 184.00 v-1.60 M364.61 20.90 v1.60 M367.35 184.00 v-1.60 M367.35 20.90 v1.60 M370.08 184.00 v-1.60 M370.08 20.90 v1.60 M372.81 184.00 v-1.60 M372.81 20.90 v1.60 M375.55 184.00 v-3.00 M375.55 20.90 v3.00 M378.28 184.00 v-1.60 M378.28 20.90 v1.60 M381.02 184.00 v-1.60 M381.02 20.90 v1.60 M383.75 184.00 v-1.60 M383.75 20.90 v1.60 M386.49 184.00 v-1.60 M386.49 20.90 v1.60 M389.23 184.00 v-1.60 M389.23 20.90 v1.60 M391.96 184.00 v-1.60 M391.96 20.90 v1.60 M394.69 184.00 v-1.60 M394.69 20.90 v1.60 M397.43 184.00 v-1.60 M397.43 20.90 v1.60 M400.16 184.00 v-1.60 M400.16 20.90 v1.60 M402.90 184.00 v-3.00 M402.90 20.90 v3.00 M405.63 184.00 v-1.60 M405.63 20.90 v1.60 M408.37 184.00 v-1.60 M408.37 20.90 v1.60 M411.11 184.00 v-1.60 M411.11 20.90 v1.60 M413.84 184.00 v-1.60 M413.84 20.90 v1.60 M416.57 184.00 v-1.60 M416.57 20.90 v1.60 M419.31 184.00 v-1.60 M419.31 20.90 v1.60 M422.04 184.00 v-1.60 M422.04 20.90 v1.60 M424.78 184.00 v-1.60 M424.78 20.90 v1.60 M427.51 184.00 v-1.60 M427.51 20.90 v1.60 M430.25 184.00 v-3.00 M430.25 20.90 v3.00 M432.99 184.00 v-1.60 M432.99 20.90 v1.60 M435.72 184.00 v-1.60 M435.72 20.90 v1.60 M438.45 184.00 v-1.60 M438.45 20.90 v1.60 M441.19 184.00 v-1.60 M441.19 20.90 v1.60 M443.93 184.00 v-1.60 M443.93 20.90 v1.60 M446.66 184.00 v-1.60 M446.66 20.90 v1.60 M449.39 184.00 v-1.60 M449.39 20.90 v1.60 M452.13 184.00 v-1.60 M452.13 20.90 v1.60 M454.87 184.00 v-1.60 M454.87 20.90 v1.60 M457.60 184.00 v-3.00 M457.60 20.90 v3.00 M293.50 184.00 h3.00 M457.60 184.00 h-3.00 M293.50 175.84 h1.60 M457.60 175.84 h-1.60 M293.50 167.69 h1.60 M457.60 167.69 h-1.60 M293.50 159.53 h1.60 M457.60 159.53 h-1.60 M293.50 151.38 h1.60 M457.60 151.38 h-1.60 M293.50 143.22 h3.00 M457.60 143.22 h-3.00 M293.50 135.07 h1.60 M457.60 135.07 h-1.60 M293.50 126.91 h1.60 M457.60 126.91 h-1.60 M293.50 118.76 h1.60 M457.60 118.76 h-1.60 M293.50 110.61 h1.60 M457.60 110.61 h-1.60 M293.50 102.45 h3.00 M457.60 102.45 h-3.00 M293.50 94.30 h1.60 M457.60 94.30 h-1.60 M293.50 86.14 h1.60 M457.60 86.14 h-1.60 M293.50 77.99 h1.60 M457.60 77.99 h-1.60 M293.50 69.83 h1.60 M457.60 69.83 h-1.60 M293.50 61.67 h3.00 M457.60 61.67 h-3.00 M293.50 53.52 h1.60 M457.60 53.52 h-1.60 M293.50 45.37 h1.60 M457.60 45.37 h-1.60 M293.50 37.21 h1.60 M457.60 37.21 h-1.60 M293.50 29.06 h1.60 M457.60 29.06 h-1.60 M293.50 20.90 h3.00 M457.60 20.90 h-3.00" stroke="#000" stroke-width="1.1" fill="none"/>
<rect x="293.5" y="20.9" width="164.1" height="163.1" fill="none" stroke="#000" stroke-width="1.1"/>
<path d="M293.50 381.70 v-3.00 M293.50 218.50 v3.00 M296.24 381.70 v-1.60 M296.24 218.50 v1.60 M298.97 381.70 v-1.60 M298.97 218.50 v1.60 M301.70 381.70 v-1.60 M301.70 218.50 v1.60 M304.44 381.70 v-1.60 M304.44 218.50 v1.60 M307.18 381.70 v-1.60 M307.18 218.50 v1.60 M309.91 381.70 v-1.60 M309.91 218.50 v1.60 M312.64 381.70 v-1.60 M312.64 218.50 v1.60 M315.38 381.70 v-1.60 M315.38 218.50 v1.60 M318.12 381.70 v-1.60 M318.12 218.50 v1.60 M320.85 381.70 v-3.00 M320.85 218.50 v3.00 M323.58 381.70 v-1.60 M323.58 218.50 v1.60 M326.32 381.70 v-1.60 M326.32 218.50 v1.60 M329.06 381.70 v-1.60 M329.06 218.50 v1.60 M331.79 381.70 v-1.60 M331.79 218.50 v1.60 M334.52 381.70 v-1.60 M334.52 218.50 v1.60 M337.26 381.70 v-1.60 M337.26 218.50 v1.60 M340.00 381.70 v-1.60 M340.00 218.50 v1.60 M342.73 381.70 v-1.60 M342.73 218.50 v1.60 M345.47 381.70 v-1.60 M345.47 218.50 v1.60 M348.20 381.70 v-3.00 M348.20 218.50 v3.00 M350.94 381.70 v-1.60 M350.94 218.50 v1.60 M353.67 381.70 v-1.60 M353.67 218.50 v1.60 M356.40 381.70 v-1.60 M356.40 218.50 v1.60 M359.14 381.70 v-1.60 M359.14 218.50 v1.60 M361.88 381.70 v-1.60 M361.88 218.50 v1.60 M364.61 381.70 v-1.60 M364.61 218.50 v1.60 M367.35 381.70 v-1.60 M367.35 218.50 v1.60 M370.08 381.70 v-1.60 M370.08 218.50 v1.60 M372.81 381.70 v-1.60 M372.81 218.50 v1.60 M375.55 381.70 v-3.00 M375.55 218.50 v3.00 M378.28 381.70 v-1.60 M378.28 218.50 v1.60 M381.02 381.70 v-1.60 M381.02 218.50 v1.60 M383.75 381.70 v-1.60 M383.75 218.50 v1.60 M386.49 381.70 v-1.60 M386.49 218.50 v1.60 M389.23 381.70 v-1.60 M389.23 218.50 v1.60 M391.96 381.70 v-1.60 M391.96 218.50 v1.60 M394.69 381.70 v-1.60 M394.69 218.50 v1.60 M397.43 381.70 v-1.60 M397.43 218.50 v1.60 M400.16 381.70 v-1.60 M400.16 218.50 v1.60 M402.90 381.70 v-3.00 M402.90 218.50 v3.00 M405.63 381.70 v-1.60 M405.63 218.50 v1.60 M408.37 381.70 v-1.60 M408.37 218.50 v1.60 M411.11 381.70 v-1.60 M411.11 218.50 v1.60 M413.84 381.70 v-1.60 M413.84 218.50 v1.60 M416.57 381.70 v-1.60 M416.57 218.50 v1.60 M419.31 381.70 v-1.60 M419.31 218.50 v1.60 M422.04 381.70 v-1.60 M422.04 218.50 v1.60 M424.78 381.70 v-1.60 M424.78 218.50 v1.60 M427.51 381.70 v-1.60 M427.51 218.50 v1.60 M430.25 381.70 v-3.00 M430.25 218.50 v3.00 M432.99 381.70 v-1.60 M432.99 218.50 v1.60 M435.72 381.70 v-1.60 M435.72 218.50 v1.60 M438.45 381.70 v-1.60 M438.45 218.50 v1.60 M441.19 381.70 v-1.60 M441.19 218.50 v1.60 M443.93 381.70 v-1.60 M443.93 218.50 v1.60 M446.66 381.70 v-1.60 M446.66 218.50 v1.60 M449.39 381.70 v-1.60 M449.39 218.50 v1.60 M452.13 381.70 v-1.60 M452.13 218.50 v1.60 M454.87 381.70 v-1.60 M454.87 218.50 v1.60 M457.60 381.70 v-3.00 M457.60 218.50 v3.00 M293.50 381.70 h3.00 M457.60 381.70 h-3.00 M293.50 373.54 h1.60 M457.60 373.54 h-1.60 M293.50 365.38 h1.60 M457.60 365.38 h-1.60 M293.50 357.22 h1.60 M457.60 357.22 h-1.60 M293.50 349.06 h1.60 M457.60 349.06 h-1.60 M293.50 340.90 h3.00 M457.60 340.90 h-3.00 M293.50 332.74 h1.60 M457.60 332.74 h-1.60 M293.50 324.58 h1.60 M457.60 324.58 h-1.60 M293.50 316.42 h1.60 M457.60 316.42 h-1.60 M293.50 308.26 h1.60 M457.60 308.26 h-1.60 M293.50 300.10 h3.00 M457.60 300.10 h-3.00 M293.50 291.94 h1.60 M457.60 291.94 h-1.60 M293.50 283.78 h1.60 M457.60 283.78 h-1.60 M293.50 275.62 h1.60 M457.60 275.62 h-1.60 M293.50 267.46 h1.60 M457.60 267.46 h-1.60 M293.50 259.30 h3.00 M457.60 259.30 h-3.00 M293.50 251.14 h1.60 M457.60 251.14 h-1.60 M293.50 242.98 h1.60 M457.60 242.98 h-1.60 M293.50 234.82 h1.60 M457.60 234.82 h-1.60 M293.50 226.66 h1.60 M457.60 226.66 h-1.60 M293.50 218.50 h3.00 M457.60 218.50 h-3.00" stroke="#000" stroke-width="1.1" fill="none"/>
<rect x="293.5" y="218.5" width="164.1" height="163.2" fill="none" stroke="#000" stroke-width="1.1"/>
<path d="M520.30 184.00 v-3.00 M520.30 20.90 v3.00 M523.03 184.00 v-1.60 M523.03 20.90 v1.60 M525.77 184.00 v-1.60 M525.77 20.90 v1.60 M528.50 184.00 v-1.60 M528.50 20.90 v1.60 M531.24 184.00 v-1.60 M531.24 20.90 v1.60 M533.97 184.00 v-1.60 M533.97 20.90 v1.60 M536.71 184.00 v-1.60 M536.71 20.90 v1.60 M539.44 184.00 v-1.60 M539.44 20.90 v1.60 M542.18 184.00 v-1.60 M542.18 20.90 v1.60 M544.91 184.00 v-1.60 M544.91 20.90 v1.60 M547.65 184.00 v-3.00 M547.65 20.90 v3.00 M550.38 184.00 v-1.60 M550.38 20.90 v1.60 M553.12 184.00 v-1.60 M553.12 20.90 v1.60 M555.85 184.00 v-1.60 M555.85 20.90 v1.60 M558.59 184.00 v-1.60 M558.59 20.90 v1.60 M561.32 184.00 v-1.60 M561.32 20.90 v1.60 M564.06 184.00 v-1.60 M564.06 20.90 v1.60 M566.79 184.00 v-1.60 M566.79 20.90 v1.60 M569.53 184.00 v-1.60 M569.53 20.90 v1.60 M572.26 184.00 v-1.60 M572.26 20.90 v1.60 M575.00 184.00 v-3.00 M575.00 20.90 v3.00 M577.73 184.00 v-1.60 M577.73 20.90 v1.60 M580.47 184.00 v-1.60 M580.47 20.90 v1.60 M583.20 184.00 v-1.60 M583.20 20.90 v1.60 M585.94 184.00 v-1.60 M585.94 20.90 v1.60 M588.67 184.00 v-1.60 M588.67 20.90 v1.60 M591.41 184.00 v-1.60 M591.41 20.90 v1.60 M594.14 184.00 v-1.60 M594.14 20.90 v1.60 M596.88 184.00 v-1.60 M596.88 20.90 v1.60 M599.62 184.00 v-1.60 M599.62 20.90 v1.60 M602.35 184.00 v-3.00 M602.35 20.90 v3.00 M605.08 184.00 v-1.60 M605.08 20.90 v1.60 M607.82 184.00 v-1.60 M607.82 20.90 v1.60 M610.55 184.00 v-1.60 M610.55 20.90 v1.60 M613.29 184.00 v-1.60 M613.29 20.90 v1.60 M616.02 184.00 v-1.60 M616.02 20.90 v1.60 M618.76 184.00 v-1.60 M618.76 20.90 v1.60 M621.49 184.00 v-1.60 M621.49 20.90 v1.60 M624.23 184.00 v-1.60 M624.23 20.90 v1.60 M626.96 184.00 v-1.60 M626.96 20.90 v1.60 M629.70 184.00 v-3.00 M629.70 20.90 v3.00 M632.43 184.00 v-1.60 M632.43 20.90 v1.60 M635.17 184.00 v-1.60 M635.17 20.90 v1.60 M637.90 184.00 v-1.60 M637.90 20.90 v1.60 M640.64 184.00 v-1.60 M640.64 20.90 v1.60 M643.38 184.00 v-1.60 M643.38 20.90 v1.60 M646.11 184.00 v-1.60 M646.11 20.90 v1.60 M648.84 184.00 v-1.60 M648.84 20.90 v1.60 M651.58 184.00 v-1.60 M651.58 20.90 v1.60 M654.31 184.00 v-1.60 M654.31 20.90 v1.60 M657.05 184.00 v-3.00 M657.05 20.90 v3.00 M659.78 184.00 v-1.60 M659.78 20.90 v1.60 M662.52 184.00 v-1.60 M662.52 20.90 v1.60 M665.25 184.00 v-1.60 M665.25 20.90 v1.60 M667.99 184.00 v-1.60 M667.99 20.90 v1.60 M670.72 184.00 v-1.60 M670.72 20.90 v1.60 M673.46 184.00 v-1.60 M673.46 20.90 v1.60 M676.19 184.00 v-1.60 M676.19 20.90 v1.60 M678.93 184.00 v-1.60 M678.93 20.90 v1.60 M681.66 184.00 v-1.60 M681.66 20.90 v1.60 M684.40 184.00 v-3.00 M684.40 20.90 v3.00 M520.30 184.00 h3.00 M684.40 184.00 h-3.00 M520.30 177.48 h1.60 M684.40 177.48 h-1.60 M520.30 170.95 h1.60 M684.40 170.95 h-1.60 M520.30 164.43 h1.60 M684.40 164.43 h-1.60 M520.30 157.90 h1.60 M684.40 157.90 h-1.60 M520.30 151.38 h3.00 M684.40 151.38 h-3.00 M520.30 144.86 h1.60 M684.40 144.86 h-1.60 M520.30 138.33 h1.60 M684.40 138.33 h-1.60 M520.30 131.81 h1.60 M684.40 131.81 h-1.60 M520.30 125.28 h1.60 M684.40 125.28 h-1.60 M520.30 118.76 h3.00 M684.40 118.76 h-3.00 M520.30 112.24 h1.60 M684.40 112.24 h-1.60 M520.30 105.71 h1.60 M684.40 105.71 h-1.60 M520.30 99.19 h1.60 M684.40 99.19 h-1.60 M520.30 92.66 h1.60 M684.40 92.66 h-1.60 M520.30 86.14 h3.00 M684.40 86.14 h-3.00 M520.30 79.62 h1.60 M684.40 79.62 h-1.60 M520.30 73.09 h1.60 M684.40 73.09 h-1.60 M520.30 66.57 h1.60 M684.40 66.57 h-1.60 M520.30 60.04 h1.60 M684.40 60.04 h-1.60 M520.30 53.52 h3.00 M684.40 53.52 h-3.00 M520.30 47.00 h1.60 M684.40 47.00 h-1.60 M520.30 40.47 h1.60 M684.40 40.47 h-1.60 M520.30 33.95 h1.60 M684.40 33.95 h-1.60 M520.30 27.42 h1.60 M684.40 27.42 h-1.60 M520.30 20.90 h3.00 M684.40 20.90 h-3.00" stroke="#000" stroke-width="1.1" fill="none"/>
<rect x="520.3" y="20.9" width="164.1" height="163.1" fill="none" stroke="#000" stroke-width="1.1"/>
<path d="M520.30 381.70 v-3.00 M520.30 218.50 v3.00 M523.03 381.70 v-1.60 M523.03 218.50 v1.60 M525.77 381.70 v-1.60 M525.77 218.50 v1.60 M528.50 381.70 v-1.60 M528.50 218.50 v1.60 M531.24 381.70 v-1.60 M531.24 218.50 v1.60 M533.97 381.70 v-1.60 M533.97 218.50 v1.60 M536.71 381.70 v-1.60 M536.71 218.50 v1.60 M539.44 381.70 v-1.60 M539.44 218.50 v1.60 M542.18 381.70 v-1.60 M542.18 218.50 v1.60 M544.91 381.70 v-1.60 M544.91 218.50 v1.60 M547.65 381.70 v-3.00 M547.65 218.50 v3.00 M550.38 381.70 v-1.60 M550.38 218.50 v1.60 M553.12 381.70 v-1.60 M553.12 218.50 v1.60 M555.85 381.70 v-1.60 M555.85 218.50 v1.60 M558.59 381.70 v-1.60 M558.59 218.50 v1.60 M561.32 381.70 v-1.60 M561.32 218.50 v1.60 M564.06 381.70 v-1.60 M564.06 218.50 v1.60 M566.79 381.70 v-1.60 M566.79 218.50 v1.60 M569.53 381.70 v-1.60 M569.53 218.50 v1.60 M572.26 381.70 v-1.60 M572.26 218.50 v1.60 M575.00 381.70 v-3.00 M575.00 218.50 v3.00 M577.73 381.70 v-1.60 M577.73 218.50 v1.60 M580.47 381.70 v-1.60 M580.47 218.50 v1.60 M583.20 381.70 v-1.60 M583.20 218.50 v1.60 M585.94 381.70 v-1.60 M585.94 218.50 v1.60 M588.67 381.70 v-1.60 M588.67 218.50 v1.60 M591.41 381.70 v-1.60 M591.41 218.50 v1.60 M594.14 381.70 v-1.60 M594.14 218.50 v1.60 M596.88 381.70 v-1.60 M596.88 218.50 v1.60 M599.62 381.70 v-1.60 M599.62 218.50 v1.60 M602.35 381.70 v-3.00 M602.35 218.50 v3.00 M605.08 381.70 v-1.60 M605.08 218.50 v1.60 M607.82 381.70 v-1.60 M607.82 218.50 v1.60 M610.55 381.70 v-1.60 M610.55 218.50 v1.60 M613.29 381.70 v-1.60 M613.29 218.50 v1.60 M616.02 381.70 v-1.60 M616.02 218.50 v1.60 M618.76 381.70 v-1.60 M618.76 218.50 v1.60 M621.49 381.70 v-1.60 M621.49 218.50 v1.60 M624.23 381.70 v-1.60 M624.23 218.50 v1.60 M626.96 381.70 v-1.60 M626.96 218.50 v1.60 M629.70 381.70 v-3.00 M629.70 218.50 v3.00 M632.43 381.70 v-1.60 M632.43 218.50 v1.60 M635.17 381.70 v-1.60 M635.17 218.50 v1.60 M637.90 381.70 v-1.60 M637.90 218.50 v1.60 M640.64 381.70 v-1.60 M640.64 218.50 v1.60 M643.38 381.70 v-1.60 M643.38 218.50 v1.60 M646.11 381.70 v-1.60 M646.11 218.50 v1.60 M648.84 381.70 v-1.60 M648.84 218.50 v1.60 M651.58 381.70 v-1.60 M651.58 218.50 v1.60 M654.31 381.70 v-1.60 M654.31 218.50 v1.60 M657.05 381.70 v-3.00 M657.05 218.50 v3.00 M659.78 381.70 v-1.60 M659.78 218.50 v1.60 M662.52 381.70 v-1.60 M662.52 218.50 v1.60 M665.25 381.70 v-1.60 M665.25 218.50 v1.60 M667.99 381.70 v-1.60 M667.99 218.50 v1.60 M670.72 381.70 v-1.60 M670.72 218.50 v1.60 M673.46 381.70 v-1.60 M673.46 218.50 v1.60 M676.19 381.70 v-1.60 M676.19 218.50 v1.60 M678.93 381.70 v-1.60 M678.93 218.50 v1.60 M681.66 381.70 v-1.60 M681.66 218.50 v1.60 M684.40 381.70 v-3.00 M684.40 218.50 v3.00 M520.30 381.70 h3.00 M684.40 381.70 h-3.00 M520.30 375.17 h1.60 M684.40 375.17 h-1.60 M520.30 368.64 h1.60 M684.40 368.64 h-1.60 M520.30 362.12 h1.60 M684.40 362.12 h-1.60 M520.30 355.59 h1.60 M684.40 355.59 h-1.60 M520.30 349.06 h3.00 M684.40 349.06 h-3.00 M520.30 342.53 h1.60 M684.40 342.53 h-1.60 M520.30 336.00 h1.60 M684.40 336.00 h-1.60 M520.30 329.48 h1.60 M684.40 329.48 h-1.60 M520.30 322.95 h1.60 M684.40 322.95 h-1.60 M520.30 316.42 h3.00 M684.40 316.42 h-3.00 M520.30 309.89 h1.60 M684.40 309.89 h-1.60 M520.30 303.36 h1.60 M684.40 303.36 h-1.60 M520.30 296.84 h1.60 M684.40 296.84 h-1.60 M520.30 290.31 h1.60 M684.40 290.31 h-1.60 M520.30 283.78 h3.00 M684.40 283.78 h-3.00 M520.30 277.25 h1.60 M684.40 277.25 h-1.60 M520.30 270.72 h1.60 M684.40 270.72 h-1.60 M520.30 264.20 h1.60 M684.40 264.20 h-1.60 M520.30 257.67 h1.60 M684.40 257.67 h-1.60 M520.30 251.14 h3.00 M684.40 251.14 h-3.00 M520.30 244.61 h1.60 M684.40 244.61 h-1.60 M520.30 238.08 h1.60 M684.40 238.08 h-1.60 M520.30 231.56 h1.60 M684.40 231.56 h-1.60 M520.30 225.03 h1.60 M684.40 225.03 h-1.60 M520.30 218.50 h3.00 M684.40 218.50 h-3.00" stroke="#000" stroke-width="1.1" fill="none"/>
<rect x="520.3" y="218.5" width="164.1" height="163.2" fill="none" stroke="#000" stroke-width="1.1"/>
<text x="71.1" y="183.9" font-size="13.8" text-anchor="end">0</text>
<text x="71.1" y="161.67" font-size="13.8" text-anchor="end">50</text>
<path d="M51.55 134.48 L51.55 126.15 L49.40 127.68 L49.40 126.53 L51.65 124.99 L52.77 124.99 L52.77 134.48Z" fill="#000" stroke="#000" stroke-width="0.25"/>
<text x="55.75" y="134.48" font-size="13.8">00</text>
<path d="M51.55 107.30 L51.55 98.96 L49.40 100.49 L49.40 99.35 L51.65 97.81 L52.77 97.81 L52.77 107.30Z" fill="#000" stroke="#000" stroke-width="0.25"/>
<text x="55.75" y="107.30" font-size="13.8">50</text>
<text x="71.1" y="80.12" font-size="13.8" text-anchor="end">200</text>
<text x="71.1" y="52.93" font-size="13.8" text-anchor="end">250</text>
<text x="71.1" y="28.8" font-size="13.8" text-anchor="end">300</text>
<path d="M274.09 183.90 L274.09 175.56 L271.94 177.09 L271.94 175.95 L274.19 174.41 L275.31 174.41 L275.31 183.90Z" fill="#000" stroke="#000" stroke-width="0.25"/>
<text x="278.29" y="183.90" font-size="13.8">.5</text>
<text x="289.8" y="148.07" font-size="13.8" text-anchor="end">2.0</text>
<text x="289.8" y="107.3" font-size="13.8" text-anchor="end">2.5</text>
<text x="289.8" y="66.53" font-size="13.8" text-anchor="end">3.0</text>
<text x="289.8" y="28.8" font-size="13.8" text-anchor="end">3.5</text>
<text x="516.6" y="183.9" font-size="13.8" text-anchor="end">0</text>
<text x="516.6" y="156.23" font-size="13.8" text-anchor="end">50</text>
<path d="M497.05 123.61 L497.05 115.27 L494.90 116.80 L494.90 115.66 L497.15 114.12 L498.27 114.12 L498.27 123.61Z" fill="#000" stroke="#000" stroke-width="0.25"/>
<text x="501.25" y="123.61" font-size="13.8">00</text>
<path d="M497.05 90.99 L497.05 82.65 L494.90 84.18 L494.90 83.04 L497.15 81.50 L498.27 81.50 L498.27 90.99Z" fill="#000" stroke="#000" stroke-width="0.25"/>
<text x="501.25" y="90.99" font-size="13.8">50</text>
<text x="516.6" y="58.37" font-size="13.8" text-anchor="end">200</text>
<text x="516.6" y="28.8" font-size="13.8" text-anchor="end">250</text>
<text x="71.1" y="381.6" font-size="13.8" text-anchor="end">0</text>
<text x="71.1" y="359.35" font-size="13.8" text-anchor="end">50</text>
<path d="M51.55 332.15 L51.55 323.81 L49.40 325.34 L49.40 324.20 L51.65 322.66 L52.77 322.66 L52.77 332.15Z" fill="#000" stroke="#000" stroke-width="0.25"/>
<text x="55.75" y="332.15" font-size="13.8">00</text>
<path d="M51.55 304.95 L51.55 296.61 L49.40 298.14 L49.40 297.00 L51.65 295.46 L52.77 295.46 L52.77 304.95Z" fill="#000" stroke="#000" stroke-width="0.25"/>
<text x="55.75" y="304.95" font-size="13.8">50</text>
<text x="71.1" y="277.75" font-size="13.8" text-anchor="end">200</text>
<text x="71.1" y="250.55" font-size="13.8" text-anchor="end">250</text>
<text x="71.1" y="226.4" font-size="13.8" text-anchor="end">300</text>
<path d="M274.09 381.60 L274.09 373.26 L271.94 374.79 L271.94 373.65 L274.19 372.11 L275.31 372.11 L275.31 381.60Z" fill="#000" stroke="#000" stroke-width="0.25"/>
<text x="278.29" y="381.60" font-size="13.8">.5</text>
<text x="289.8" y="345.75" font-size="13.8" text-anchor="end">2.0</text>
<text x="289.8" y="304.95" font-size="13.8" text-anchor="end">2.5</text>
<text x="289.8" y="264.15" font-size="13.8" text-anchor="end">3.0</text>
<text x="289.8" y="226.4" font-size="13.8" text-anchor="end">3.5</text>
<text x="516.6" y="381.6" font-size="13.8" text-anchor="end">0</text>
<text x="516.6" y="353.91" font-size="13.8" text-anchor="end">50</text>
<path d="M497.05 321.27 L497.05 312.93 L494.90 314.46 L494.90 313.32 L497.15 311.78 L498.27 311.78 L498.27 321.27Z" fill="#000" stroke="#000" stroke-width="0.25"/>
<text x="501.25" y="321.27" font-size="13.8">00</text>
<path d="M497.05 288.63 L497.05 280.29 L494.90 281.82 L494.90 280.68 L497.15 279.14 L498.27 279.14 L498.27 288.63Z" fill="#000" stroke="#000" stroke-width="0.25"/>
<text x="501.25" y="288.63" font-size="13.8">50</text>
<text x="516.6" y="255.99" font-size="13.8" text-anchor="end">200</text>
<text x="516.6" y="226.4" font-size="13.8" text-anchor="end">250</text>
<path d="M68.98 399.10 L68.98 390.76 L66.84 392.29 L66.84 391.15 L69.08 389.61 L70.20 389.61 L70.20 399.10Z" fill="#000" stroke="#000" stroke-width="0.25"/>
<text x="73.18" y="399.10" font-size="13.8">.2</text>
<path d="M96.33 399.10 L96.33 390.76 L94.19 392.29 L94.19 391.15 L96.43 389.61 L97.55 389.61 L97.55 399.10Z" fill="#000" stroke="#000" stroke-width="0.25"/>
<text x="100.53" y="399.10" font-size="13.8">.3</text>
<path d="M123.68 399.10 L123.68 390.76 L121.54 392.29 L121.54 391.15 L123.78 389.61 L124.90 389.61 L124.90 399.10Z" fill="#000" stroke="#000" stroke-width="0.25"/>
<text x="127.88" y="399.10" font-size="13.8">.4</text>
<path d="M151.03 399.10 L151.03 390.76 L148.89 392.29 L148.89 391.15 L151.13 389.61 L152.25 389.61 L152.25 399.10Z" fill="#000" stroke="#000" stroke-width="0.25"/>
<text x="155.23" y="399.10" font-size="13.8">.5</text>
<path d="M178.38 399.10 L178.38 390.76 L176.24 392.29 L176.24 391.15 L178.48 389.61 L179.60 389.61 L179.60 399.10Z" fill="#000" stroke="#000" stroke-width="0.25"/>
<text x="182.58" y="399.10" font-size="13.8">.6</text>
<path d="M205.73 399.10 L205.73 390.76 L203.59 392.29 L203.59 391.15 L205.83 389.61 L206.95 389.61 L206.95 399.10Z" fill="#000" stroke="#000" stroke-width="0.25"/>
<text x="209.93" y="399.10" font-size="13.8">.7</text>
<path d="M233.08 399.10 L233.08 390.76 L230.94 392.29 L230.94 391.15 L233.18 389.61 L234.30 389.61 L234.30 399.10Z" fill="#000" stroke="#000" stroke-width="0.25"/>
<text x="237.28" y="399.10" font-size="13.8">.8</text>
<path d="M287.68 399.10 L287.68 390.76 L285.54 392.29 L285.54 391.15 L287.78 389.61 L288.90 389.61 L288.90 399.10Z" fill="#000" stroke="#000" stroke-width="0.25"/>
<text x="291.88" y="399.10" font-size="13.8">.2</text>
<path d="M315.03 399.10 L315.03 390.76 L312.89 392.29 L312.89 391.15 L315.13 389.61 L316.25 389.61 L316.25 399.10Z" fill="#000" stroke="#000" stroke-width="0.25"/>
<text x="319.23" y="399.10" font-size="13.8">.3</text>
<path d="M342.38 399.10 L342.38 390.76 L340.24 392.29 L340.24 391.15 L342.48 389.61 L343.60 389.61 L343.60 399.10Z" fill="#000" stroke="#000" stroke-width="0.25"/>
<text x="346.58" y="399.10" font-size="13.8">.4</text>
<path d="M369.73 399.10 L369.73 390.76 L367.59 392.29 L367.59 391.15 L369.83 389.61 L370.95 389.61 L370.95 399.10Z" fill="#000" stroke="#000" stroke-width="0.25"/>
<text x="373.93" y="399.10" font-size="13.8">.5</text>
<path d="M397.08 399.10 L397.08 390.76 L394.94 392.29 L394.94 391.15 L397.18 389.61 L398.30 389.61 L398.30 399.10Z" fill="#000" stroke="#000" stroke-width="0.25"/>
<text x="401.28" y="399.10" font-size="13.8">.6</text>
<path d="M424.43 399.10 L424.43 390.76 L422.29 392.29 L422.29 391.15 L424.53 389.61 L425.65 389.61 L425.65 399.10Z" fill="#000" stroke="#000" stroke-width="0.25"/>
<text x="428.63" y="399.10" font-size="13.8">.7</text>
<path d="M451.78 399.10 L451.78 390.76 L449.64 392.29 L449.64 391.15 L451.88 389.61 L453.00 389.61 L453.00 399.10Z" fill="#000" stroke="#000" stroke-width="0.25"/>
<text x="455.98" y="399.10" font-size="13.8">.8</text>
<path d="M514.48 399.10 L514.48 390.76 L512.34 392.29 L512.34 391.15 L514.58 389.61 L515.70 389.61 L515.70 399.10Z" fill="#000" stroke="#000" stroke-width="0.25"/>
<text x="518.68" y="399.10" font-size="13.8">.2</text>
<path d="M541.83 399.10 L541.83 390.76 L539.69 392.29 L539.69 391.15 L541.93 389.61 L543.05 389.61 L543.05 399.10Z" fill="#000" stroke="#000" stroke-width="0.25"/>
<text x="546.03" y="399.10" font-size="13.8">.3</text>
<path d="M569.18 399.10 L569.18 390.76 L567.04 392.29 L567.04 391.15 L569.28 389.61 L570.40 389.61 L570.40 399.10Z" fill="#000" stroke="#000" stroke-width="0.25"/>
<text x="573.38" y="399.10" font-size="13.8">.4</text>
<path d="M596.53 399.10 L596.53 390.76 L594.39 392.29 L594.39 391.15 L596.63 389.61 L597.75 389.61 L597.75 399.10Z" fill="#000" stroke="#000" stroke-width="0.25"/>
<text x="600.73" y="399.10" font-size="13.8">.5</text>
<path d="M623.88 399.10 L623.88 390.76 L621.74 392.29 L621.74 391.15 L623.98 389.61 L625.10 389.61 L625.10 399.10Z" fill="#000" stroke="#000" stroke-width="0.25"/>
<text x="628.08" y="399.10" font-size="13.8">.6</text>
<path d="M651.23 399.10 L651.23 390.76 L649.09 392.29 L649.09 391.15 L651.33 389.61 L652.45 389.61 L652.45 399.10Z" fill="#000" stroke="#000" stroke-width="0.25"/>
<text x="655.43" y="399.10" font-size="13.8">.7</text>
<path d="M678.58 399.10 L678.58 390.76 L676.44 392.29 L676.44 391.15 L678.68 389.61 L679.80 389.61 L679.80 399.10Z" fill="#000" stroke="#000" stroke-width="0.25"/>
<text x="682.78" y="399.10" font-size="13.8">.8</text>
<text x="82.68" y="12.9" font-size="16.5" text-anchor="start">(a)</text>
<text x="82.68" y="210.1" font-size="16.5" text-anchor="start">(b)</text>
<text x="301.38" y="12.9" font-size="16.5" text-anchor="start">(c)</text>
<text x="301.38" y="210.1" font-size="16.5" text-anchor="start">(d)</text>
<text x="528.18" y="12.9" font-size="16.5" text-anchor="start">(e)</text>
<text x="528.18" y="210.1" font-size="16.5" text-anchor="start">(f)</text>
<text x="105.23" y="46.30" font-size="13">B</text>
<text x="113.84" y="49.40" font-size="8.6">g0</text>
<text x="126.67" y="46.30" font-size="13">=</text>
<text x="137.88" y="46.30" font-size="13">556.79</text>
<text x="182.53" y="46.30" font-size="13">R</text>
<text x="191.91" y="49.70" font-size="8.6">SS</text>
<text x="203.34" y="40.60" font-size="8.2">-</text>
<text x="207.69" y="40.60" font-size="8.2">3.6</text>
<path d="M221.15 40.60 L221.15 35.65 L219.88 36.56 L219.88 35.88 L221.21 34.96 L221.87 34.96 L221.87 40.60Z" fill="#000" stroke="#000" stroke-width="0.25"/>
<text x="105.23" y="243.90" font-size="13">B</text>
<text x="113.84" y="247.00" font-size="8.6">g0</text>
<text x="126.67" y="243.90" font-size="13">=</text>
<text x="138.10" y="243.90" font-size="13">494.00</text>
<text x="182.93" y="243.90" font-size="13">R</text>
<text x="192.21" y="247.30" font-size="8.6">SS</text>
<text x="203.34" y="238.20" font-size="8.2">-</text>
<text x="207.69" y="238.20" font-size="8.2">3.</text>
<path d="M216.59 238.20 L216.59 233.25 L215.32 234.16 L215.32 233.48 L216.65 232.56 L217.31 232.56 L217.31 238.20Z" fill="#000" stroke="#000" stroke-width="0.25"/>
<text x="219.09" y="238.20" font-size="8.2">9</text>
<text x="321.02" y="46.40" font-size="13">f</text>
<text x="327.37" y="46.40" font-size="13">=</text>
<text x="339.20" y="46.40" font-size="13">3.67</text>
<text x="370.92" y="46.40" font-size="13">-</text>
<text x="380.69" y="46.40" font-size="13">0.96</text>
<text x="409.93" y="46.40" font-size="13">R</text>
<text x="419.61" y="49.80" font-size="8.6">SS</text>
<text x="321.02" y="244.10" font-size="13">f</text>
<text x="327.37" y="244.10" font-size="13">=</text>
<text x="339.05" y="244.10" font-size="13">2.89</text>
<text x="370.92" y="244.10" font-size="13">-</text>
<text x="380.69" y="244.10" font-size="13">0.35</text>
<text x="409.93" y="244.10" font-size="13">R</text>
<text x="419.61" y="247.50" font-size="8.6">SS</text>
<text x="130.98" y="414.20" font-size="13.7">R</text>
<text x="141.09" y="417.50" font-size="9.0">SS</text>
<text x="156.45" y="414.20" font-size="13.7">(</text>
<text x="161.18" y="414.20" font-size="13.7">R</text>
<text x="171.06" y="417.70" font-size="9.0">M</text>
<text x="179.02" y="414.20" font-size="13.7">)</text>
<text x="349.68" y="414.20" font-size="13.7">R</text>
<text x="359.79" y="417.50" font-size="9.0">SS</text>
<text x="375.15" y="414.20" font-size="13.7">(</text>
<text x="379.88" y="414.20" font-size="13.7">R</text>
<text x="389.76" y="417.70" font-size="9.0">M</text>
<text x="397.72" y="414.20" font-size="13.7">)</text>
<text x="576.48" y="414.20" font-size="13.7">R</text>
<text x="586.59" y="417.50" font-size="9.0">SS</text>
<text x="601.95" y="414.20" font-size="13.7">(</text>
<text x="606.68" y="414.20" font-size="13.7">R</text>
<text x="616.56" y="417.70" font-size="9.0">M</text>
<text x="624.52" y="414.20" font-size="13.7">)</text>
<text transform="translate(36.90 126.43) rotate(-90)" font-size="13.8">B</text>
<text transform="translate(40.00 116.98) rotate(-90)" font-size="9.0">g0</text>
<text transform="translate(36.90 103.86) rotate(-90)" font-size="13.8">(nT)</text>
<text transform="translate(259.00 137.60) rotate(-90)" font-size="13.8">f</text>
<text transform="translate(259.00 129.67) rotate(-90)" font-size="13.8">=</text>
<text transform="translate(259.00 117.03) rotate(-90)" font-size="13.8">B</text>
<text transform="translate(262.10 107.78) rotate(-90)" font-size="9.0">g0</text>
<text transform="translate(259.00 94.50) rotate(-90)" font-size="13.8">/</text>
<text transform="translate(259.00 87.03) rotate(-90)" font-size="13.8">B</text>
<text transform="translate(262.10 77.18) rotate(-90)" font-size="9.0">d0</text>
<text transform="translate(482.00 155.78) rotate(-90)" font-size="13.8">d</text>
<text transform="translate(482.00 144.47) rotate(-90)" font-size="13.8">=</text>
<text transform="translate(482.00 133.43) rotate(-90)" font-size="13.8">B</text>
<text transform="translate(485.10 123.38) rotate(-90)" font-size="9.0">g0</text>
<text transform="translate(482.00 107.51) rotate(-90)" font-size="13.8">-</text>
<text transform="translate(482.00 97.43) rotate(-90)" font-size="13.8">B</text>
<text transform="translate(485.10 87.38) rotate(-90)" font-size="9.0">d0</text>
<text transform="translate(482.00 75.69) rotate(-90)" font-size="14.4">(nT)</text>
<text transform="translate(36.90 324.23) rotate(-90)" font-size="13.8">B</text>
<text transform="translate(40.00 314.78) rotate(-90)" font-size="9.0">g0</text>
<text transform="translate(36.90 301.66) rotate(-90)" font-size="13.8">(nT)</text>
<text transform="translate(259.00 335.40) rotate(-90)" font-size="13.8">f</text>
<text transform="translate(259.00 327.47) rotate(-90)" font-size="13.8">=</text>
<text transform="translate(259.00 314.83) rotate(-90)" font-size="13.8">B</text>
<text transform="translate(262.10 305.58) rotate(-90)" font-size="9.0">g0</text>
<text transform="translate(259.00 292.30) rotate(-90)" font-size="13.8">/</text>
<text transform="translate(259.00 284.83) rotate(-90)" font-size="13.8">B</text>
<text transform="translate(262.10 274.98) rotate(-90)" font-size="9.0">d0</text>
<text transform="translate(482.00 353.58) rotate(-90)" font-size="13.8">d</text>
<text transform="translate(482.00 342.27) rotate(-90)" font-size="13.8">=</text>
<text transform="translate(482.00 331.23) rotate(-90)" font-size="13.8">B</text>
<text transform="translate(485.10 321.18) rotate(-90)" font-size="9.0">g0</text>
<text transform="translate(482.00 305.31) rotate(-90)" font-size="13.8">-</text>
<text transform="translate(482.00 295.23) rotate(-90)" font-size="13.8">B</text>
<text transform="translate(485.10 285.18) rotate(-90)" font-size="9.0">d0</text>
<text transform="translate(482.00 273.49) rotate(-90)" font-size="14.4">(nT)</text>
<text transform="translate(12.7 102.5) rotate(-90)" font-size="16.5" text-anchor="middle">Southward IMF</text>
<text transform="translate(12.7 300.4) rotate(-90)" font-size="16.5" text-anchor="middle">Northward IMF</text>
<rect x="699.3" y="20.5" width="8.5" height="361.2" fill="url(#jet)" stroke="#6a6a66" stroke-width="0.8"/>
<rect x="699.7" y="379.7" width="7.7" height="1.0" fill="#6a6ae0"/>
<rect x="699.3" y="380.7" width="8.5" height="1.2" fill="#9a9a96"/>
<path d="M699.30 309.46 h2 M707.80 309.46 h-2 M699.30 237.22 h2 M707.80 237.22 h-2 M699.30 164.98 h2 M707.80 164.98 h-2 M699.30 92.74 h2 M707.80 92.74 h-2" stroke="#000" stroke-width="0.8"/>
<text x="710.9" y="381.7" font-size="13.4" text-anchor="start">0</text>
<text x="710.9" y="314.11" font-size="13.4" text-anchor="start">0.02</text>
<text x="710.9" y="241.87" font-size="13.4" text-anchor="start">0.04</text>
<text x="710.9" y="169.63" font-size="13.4" text-anchor="start">0.06</text>
<text x="710.9" y="97.39" font-size="13.4" text-anchor="start">0.08</text>
<text x="710.90" y="28.80" font-size="13.4">0.</text>
<path d="M725.45 28.80 L725.45 20.71 L723.36 22.19 L723.36 21.08 L725.54 19.58 L726.63 19.58 L726.63 28.80Z" fill="#000" stroke="#000" stroke-width="0.25"/>
<text transform="translate(754.6 285.72) rotate(-90)" font-size="17.4" letter-spacing="-0.44">Occurrence</text>
<text transform="translate(754.6 195.33) rotate(-90)" font-size="17.4" letter-spacing="0.375">Frequency</text>
</svg>
</body></html>
